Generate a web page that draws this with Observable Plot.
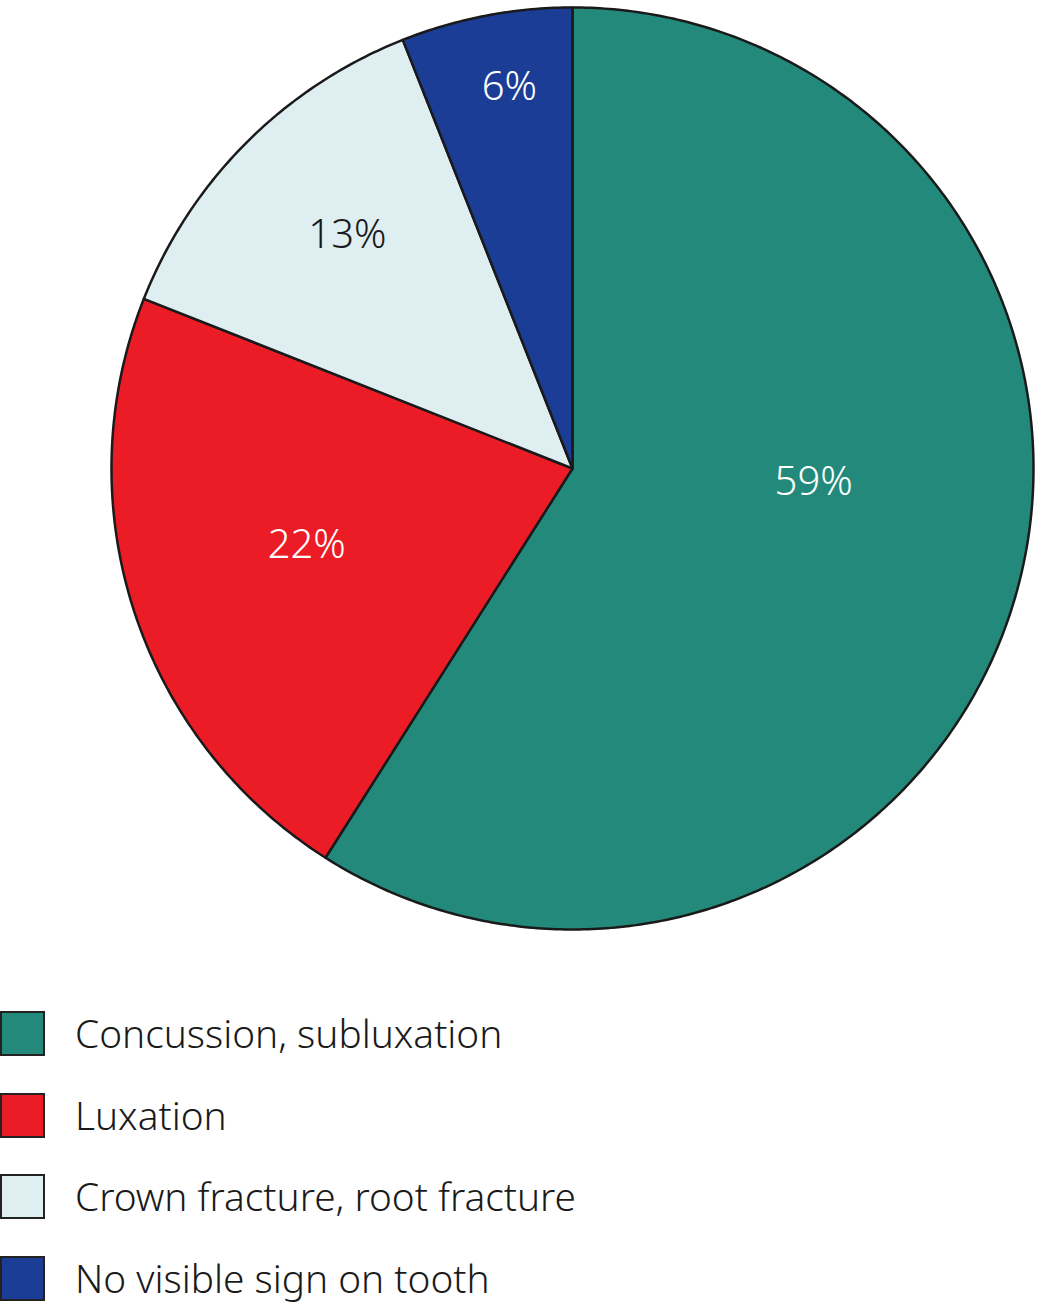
<!DOCTYPE html>
<html>
<head>
<meta charset="utf-8">
<script src="https://cdn.jsdelivr.net/npm/d3@7"></script>
<script src="https://cdn.jsdelivr.net/npm/@observablehq/plot@0.6"></script>
<style>
  html, body { margin: 0; padding: 0; background: #fff; }
  body { width: 1041px; height: 1303px; overflow: hidden; font-family: "Noto Sans", sans-serif; }
  #legend { margin-top: 53px; }
  .row { display: flex; align-items: center; height: 81.5px; }
  .sw { width: 41px; height: 41px; border: 2.5px solid #222; margin-left: 0px; box-sizing: content-box; }
  .lab { margin-left: 30px; font-size: 38.8px; font-weight: 300; color: #1a1a1a; line-height: 1; }
</style>
</head>
<body>
<div id="chart"></div>
<div id="legend"></div>
<script>
// Data
const categories = ["Concussion, subluxation", "Luxation", "Crown fracture, root fracture", "No visible sign on tooth"];
const values = [59, 22, 13, 6];
const labels = ["59%", "22%", "13%", "6%"];
const colors = ["#238a7b", "#ec1c27", "#deeef1", "#1c3d96"];
const labelColors = ["#ffffff", "#ffffff", "#1a1a1a", "#ffffff"];

// Layout (label placement in polar terms: angle clockwise from top in degrees, radius fraction)
const labelAngle = [93.3, 253.9, 316.0, 350.6];
const labelRadius = [0.524, 0.60, 0.703, 0.838];

const pie = d3.pie().sort(null).value(d => d)(values);

const slicePts = [];
pie.forEach((p, i) => {
  slicePts.push({cat: categories[i], x: 0, y: 0});
  const n = Math.max(2, Math.ceil((p.endAngle - p.startAngle) / 0.01));
  for (let k = 0; k <= n; k++) {
    const a = p.startAngle + (p.endAngle - p.startAngle) * k / n;
    slicePts.push({cat: categories[i], x: Math.sin(a), y: Math.cos(a)});
  }
});

const labelData = labels.map((t, i) => {
  const a = labelAngle[i] * Math.PI / 180;
  return {text: t, x: labelRadius[i] * Math.sin(a), y: labelRadius[i] * Math.cos(a), c: labelColors[i]};
});

const R = 461, cx = 572, cy = 468;

const chart = Plot.plot({
  width: 1041,
  height: 940,
  margin: 0,
  x: {domain: [-1, 1], range: [cx - R, cx + R], axis: null},
  y: {domain: [-1, 1], range: [cy + R, cy - R], axis: null},
  color: {domain: categories, range: colors},
  style: {background: "white"},
  marks: [
    Plot.line(slicePts, {x: "x", y: "y", z: "cat", fill: "cat", stroke: "#1a1a1a", strokeWidth: 2.5, curve: "linear-closed", strokeLinejoin: "round"}),
    Plot.text(labelData, {x: "x", y: "y", text: "text", fill: d => d.c, fontSize: 40, fontWeight: 300, fontFamily: "Noto Sans"})
  ]
});
document.getElementById("chart").appendChild(chart);

const legend = document.getElementById("legend");
categories.forEach((c, i) => {
  const row = document.createElement("div");
  row.className = "row";
  const sw = document.createElement("div");
  sw.className = "sw";
  sw.style.background = colors[i];
  const lab = document.createElement("div");
  lab.className = "lab";
  lab.textContent = c;
  row.appendChild(sw);
  row.appendChild(lab);
  legend.appendChild(row);
});
</script>
</body>
</html>
